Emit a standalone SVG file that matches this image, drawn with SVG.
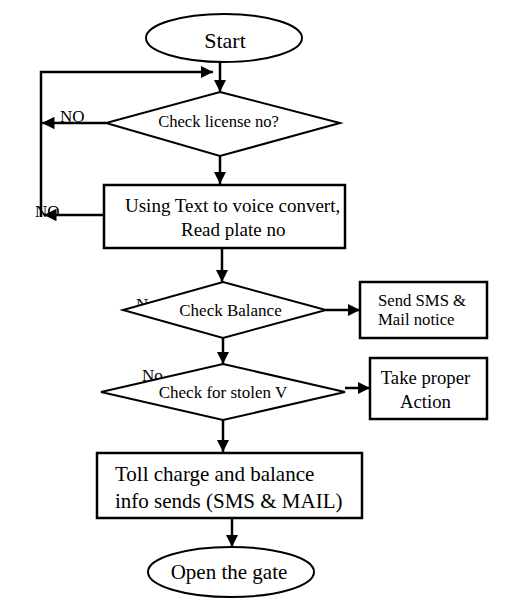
<svg xmlns="http://www.w3.org/2000/svg" width="507" height="615" viewBox="0 0 507 615">
<style>
.s{fill:#fff;stroke:#000;stroke-width:2}
.b{fill:#fff;stroke:#000;stroke-width:2.5}
.t{font-family:"Liberation Serif","Times New Roman",serif;fill:#000}
.c{stroke:#000;stroke-width:2.5;fill:none}
</style>
<defs>
<marker id="ah" viewBox="0 0 10 10" refX="10" refY="5" markerWidth="5" markerHeight="5" markerUnits="strokeWidth" orient="auto">
<path d="M0,0 L10,5 L0,10 Z" fill="#000"/>
</marker>
</defs>
<rect width="507" height="615" fill="#fff"/>
<g id="labels-hidden">
<text class="t" x="136" y="310" font-size="17">No</text>
<text class="t" x="142" y="381" font-size="17">No</text>
</g>
<g id="connectors">
<path class="c" d="M220,62 V92" marker-end="url(#ah)"/>
<path class="c" d="M41,217 V72 H213" marker-end="url(#ah)"/>
<path class="c" d="M106,123 H42" marker-end="url(#ah)"/>
<path class="c" d="M104,215 H44" marker-end="url(#ah)"/>
<path class="c" d="M220,156 V184" marker-end="url(#ah)"/>
<path class="c" d="M222,248 V282" marker-end="url(#ah)"/>
<path class="c" d="M326,310 H360" marker-end="url(#ah)"/>
<path class="c" d="M223,338 V364" marker-end="url(#ah)"/>
<path class="c" d="M345,388 H370" marker-end="url(#ah)"/>
<path class="c" d="M223,420 V452" marker-end="url(#ah)"/>
<path class="c" d="M232,518 V547" marker-end="url(#ah)"/>
</g>
<g id="start">
<ellipse class="s" cx="224" cy="38" rx="78" ry="24"/>
<text class="t" x="225" y="48" font-size="22" text-anchor="middle">Start</text>
</g>
<g id="check-license">
<polygon class="s" points="220,92 340,123 220,156 106,123"/>
<text class="t" x="218.5" y="127" font-size="16.6" text-anchor="middle">Check license no?</text>
</g>
<g id="read-plate">
<rect class="b" x="104" y="185" width="241" height="63"/>
<text class="t" x="125" y="212" font-size="19">Using Text to voice convert,</text>
<text class="t" x="181" y="236" font-size="19">Read plate no</text>
</g>
<g id="check-balance">
<polygon class="s" points="223,282 326,310 223,338 123,310"/>
<text class="t" x="230.5" y="316" font-size="17">
<tspan text-anchor="middle">Check Balance</tspan></text>
</g>
<g id="send-sms">
<rect class="b" x="360" y="282" width="127" height="56"/>
<text class="t" x="378" y="306" font-size="16.7">Send SMS &amp;</text>
<text class="t" x="378" y="325" font-size="16.7">Mail notice</text>
</g>
<g id="check-stolen">
<polygon class="s" points="223,364 345,392 223,420 101,392"/>
<text class="t" x="223" y="398" font-size="17" text-anchor="middle">Check for stolen V</text>
</g>
<g id="take-action">
<rect class="b" x="370" y="358" width="117" height="61"/>
<text class="t" x="425.5" y="384" font-size="18.7" text-anchor="middle">Take proper</text>
<text class="t" x="425.5" y="408" font-size="18.7" text-anchor="middle">Action</text>
</g>
<g id="toll-charge">
<rect class="b" x="97" y="453" width="265" height="65"/>
<text class="t" x="115" y="481" font-size="21">Toll charge and balance</text>
<text class="t" x="115" y="508" font-size="21">info sends (SMS &amp; MAIL)</text>
</g>
<g id="open-gate">
<ellipse class="s" cx="231" cy="572" rx="83" ry="25"/>
<text class="t" x="229" y="579" font-size="21" text-anchor="middle">Open the gate</text>
</g>
<g id="labels">
<text class="t" x="60" y="122" font-size="17">NO</text>
<text class="t" x="35" y="217" font-size="17">NO</text>
</g>
</svg>
